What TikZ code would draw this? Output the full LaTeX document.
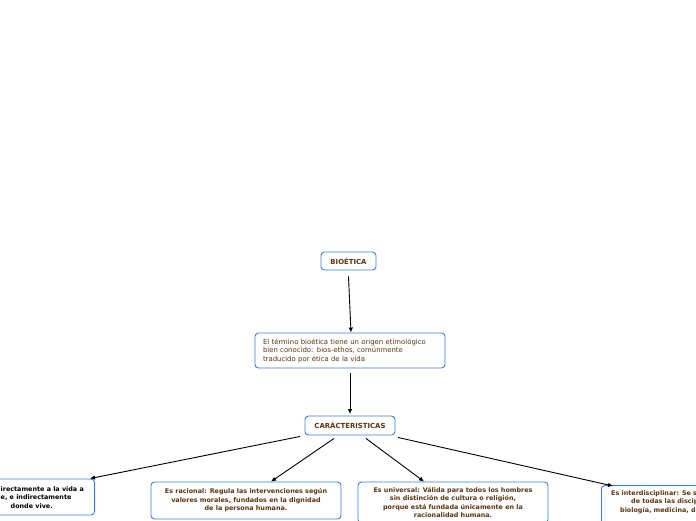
\documentclass[tikz,border=0pt]{standalone}
\usepackage{fontspec}
\setmainfont{DejaVu Sans}
\usepackage{tikz}
\usetikzlibrary{arrows.meta}

\definecolor{boxblue}{HTML}{3B7DDD}
\definecolor{txtbrown}{HTML}{5A3510}

\begin{document}
\begin{tikzpicture}[
						x=1pt, y=-1pt,
						every node/.style={font=\fontsize{6.4}{8.5}\selectfont},
						topic/.style={rectangle, draw=boxblue, line width=0.9pt, fill=white, rounded corners=3.5pt, text=txtbrown, font=\fontsize{6.4}{8.5}\selectfont\bfseries, inner sep=0pt},
						leaf/.style={topic, minimum width=190pt, align=center},
						flow/.style={-{Latex[length=5pt,width=4.5pt]}, line width=0.9pt, black}
						]
						
						% Marco de la imagen
						\useasboundingbox (0,0) rectangle (696,520);
						\clip (0,0) rectangle (696,520);
						
						% Nodos principales
						\node[topic, minimum width=55pt, minimum height=18pt, font=\fontsize{6.9}{8.5}\selectfont\bfseries] (bio) at (348.5,261) {BIOÉTICA};
						\node[topic, minimum width=190pt, minimum height=35pt, text width=174pt, align=left, font=\fontsize{6.9}{8.5}\selectfont, inner xsep=8pt] (origen) at (350,350.5) {El término bioética tiene un origen etimológico\\bien conocido: bios-ethos, comúnmente\\traducido por ética de la vida};
						\node[topic, minimum width=90pt, minimum height=19pt, font=\fontsize{6.9}{8.5}\selectfont\bfseries] (carac) at (350,425.5) {CARÁCTERISTICAS};
						
						% Características (ramas)
						\node[leaf, minimum height=36pt, anchor=east] (global) at (95,497) {};
						\node[anchor=west, align=left, inner sep=0pt, text=black, font=\fontsize{6.4}{8.5}\selectfont\bfseries] (globaltxt) at (0.5,497.5) {irectamente a la vida a\\e, e indirectamente\\\hspace{10pt}donde vive.};
						\node[leaf, minimum height=37pt] (racional) at (246,500.5) {Es racional: Regula las intervenciones según\\valores morales, fundados en la dignidad\\de la persona humana.};
						\node[leaf, minimum height=41pt] (universal) at (453,502.5) {Es universal: Válida para todos los hombres\\sin distinción de cultura o religión,\\porque está fundada únicamente en la\\racionalidad humana.};
						\node[leaf, minimum height=40pt, anchor=north west] (interdis) at (601,485) {};
						\node[anchor=west, align=left, inner sep=0pt, text=txtbrown, font=\fontsize{6.4}{8.5}\selectfont\bfseries] (interdistxt) at (611,502) {Es interdisciplinar: Se s\\\hspace{20pt}de todas las discip\\\hspace{9pt}biología, medicina, d};
						
						% Conectores
						\draw[flow] ([yshift=-6pt]bio.south) -- ([xshift=1pt]origen.north);
						\draw[flow] ([yshift=-5pt]origen.south) -- ([yshift=1.5pt]carac.north);
						\draw[flow] ([xshift=-50pt,yshift=-1pt]carac.south) -- ([xshift=-5pt]global.north east);
						\draw[flow] ([xshift=-16pt,yshift=-3pt]carac.south) -- ([xshift=25pt]racional.north);
						\draw[flow] ([xshift=16pt,yshift=-3pt]carac.south) -- ([xshift=-29pt]universal.north);
						\draw[flow] ([xshift=48pt,yshift=-2pt]carac.south) -- ([xshift=12pt,yshift=-1pt]interdis.north west);
						
					\end{tikzpicture}
\end{document}
